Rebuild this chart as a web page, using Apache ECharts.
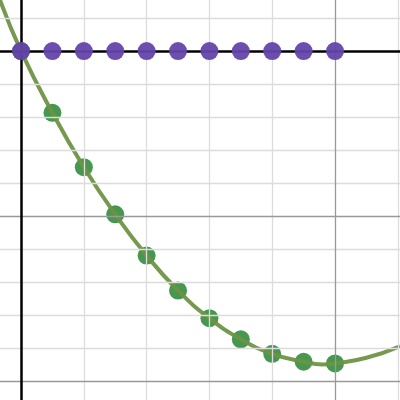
<!DOCTYPE html>
<html>
<head>
<meta charset="utf-8">
<script src="https://cdn.jsdelivr.net/npm/echarts@6/dist/echarts.min.js"></script>
<style>html,body{margin:0;padding:0;background:#fff}#chart{width:400px;height:400px}</style>
</head>
<body>
<div id="chart"></div>
<script>
// point positions
const pointX = [0, 1, 2, 3, 4, 5, 6, 7, 8, 9, 10];
const greenY = [0, -1.87, -3.52, -4.95, -6.2, -7.26, -8.1, -8.74, -9.18, -9.42, -9.47];
const purpleY = [0, 0, 0, 0, 0, 0, 0, 0, 0, 0, 0];
// curve samples
const curveX = [-0.67, 0, 1, 2, 3, 4, 5, 6, 7, 8, 9, 9.6, 10, 11, 12.07];
const curveY = [1.55, 0, -1.87, -3.52, -4.95, -6.2, -7.26, -8.1, -8.74, -9.18, -9.42, -9.5, -9.47, -9.3, -8.95];
// grid lines
const minorX = [2, 4, 6, 8, 12];
const majorX = [10];
const minorY = [1, -1, -2, -3, -4, -6, -7, -8, -9];
const majorY = [-5, -10];

const zip = (a, b) => a.map((v, i) => [v, b[i]]);

var myChart = echarts.init(document.getElementById('chart'));

function lines(arr, dim, color, width) {
  return arr.map(v => ({ [dim]: v, lineStyle: { color: color, width: width, type: 'solid' } }));
}

var option = {
  animation: false,
  grid: { left: 0, right: 0, top: 0, bottom: 0 },
  xAxis: { type: 'value', min: -0.67, max: 12.07, show: false, splitLine: { show: false } },
  yAxis: { type: 'value', min: -10.58, max: 1.55, show: false, splitLine: { show: false } },
  series: [
    {
      type: 'line', data: [], silent: true,
      markLine: {
        symbol: 'none', silent: true, label: { show: false },
        data: [].concat(
          lines(minorX, 'xAxis', '#dcdcdc', 1.3),
          lines(minorY, 'yAxis', '#dcdcdc', 1.3),
          lines(majorX, 'xAxis', '#999', 1.3),
          lines(majorY, 'yAxis', '#999', 1.3),
          lines([0], 'xAxis', '#000', 2.5),
          lines([0], 'yAxis', '#000', 2.5)
        )
      }
    },
    {
      type: 'scatter', data: zip(pointX, greenY), symbolSize: 18,
      itemStyle: { color: '#3d9148', opacity: 0.95 }, z: 3
    },
    {
      type: 'line', data: zip(curveX, curveY), smooth: 0.5, showSymbol: false,
      lineStyle: { color: '#6e9345', width: 4, opacity: 0.95 }, z: 4
    },
    {
      type: 'scatter', data: zip(pointX, purpleY), symbolSize: 18,
      itemStyle: { color: '#6445ab', opacity: 0.95 }, z: 5
    }
  ]
};
myChart.setOption(option);
window.addEventListener('resize', myChart.resize);
</script>
</body>
</html>
